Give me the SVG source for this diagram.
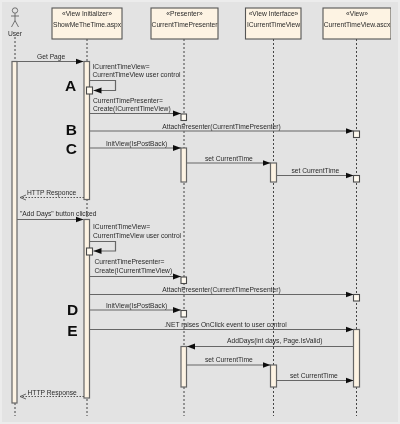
<svg xmlns="http://www.w3.org/2000/svg" width="400" height="424" viewBox="0 0 400 424">
<style>
text{font-family:"Liberation Sans",Arial,sans-serif;font-size:6.7px;fill:#2a2a2a}
.c{text-anchor:middle}
.big{font-size:15.500px;font-weight:bold;fill:#111;text-anchor:middle}
.box{fill:#fdf3e3;stroke:#555;stroke-width:1.100}
.act{fill:#fdf3e3;stroke:#666;stroke-width:1.200}
.small{fill:#fffaf0;stroke:#4a4a4a;stroke-width:1.100}
.life{stroke:#444;stroke-width:1;stroke-dasharray:2 2;fill:none}
.msg{stroke:#666;stroke-width:1.200;fill:none;marker-end:url(#solid)}
.ret{stroke:#555;stroke-width:1;stroke-dasharray:1.500 1.500;fill:none;marker-end:url(#open)}
</style>
<defs>
<filter id="soft" x="0" y="0" width="100%" height="100%"><feGaussianBlur stdDeviation="0.300"/></filter>
<marker id="solid" markerUnits="userSpaceOnUse" markerWidth="9" markerHeight="7" refX="8" refY="3.500" orient="auto"><path d="M0 0.500L8 3.500L0 6.500Z" fill="#111"/></marker>
<marker id="open" markerUnits="userSpaceOnUse" markerWidth="8" markerHeight="7" refX="6" refY="3.500" orient="auto"><path d="M0 1L6 3.500L0 6" fill="none" stroke="#555" stroke-width=".9"/></marker>
</defs>
<rect width="400" height="424" fill="#ececec"/>
<rect x="2" y="2" width="396" height="420" fill="#e3e3e3"/>
<g filter="url(#soft)">
<g id="lifelines">
<path class="life" d="M15 37V61M15 403V416"/>
<path class="life" d="M87 39V416"/>
<path class="life" d="M184 39V416"/>
<path class="life" d="M273.500 39V416"/>
<path class="life" d="M356.500 39V416"/>
</g>
<g id="user">
<circle cx="15" cy="10.500" r="2.700" fill="none" stroke="#555" stroke-width=".8"/>
<path d="M15 13.300V20.500M11 16H19M15 20.500L11.500 27M15 20.500L18.500 27" fill="none" stroke="#555" stroke-width=".8"/>
<text class="c" x="15" y="36">User</text>
<rect class="act" x="12" y="61.500" width="5" height="341.500"/>
</g>
<g id="view-initializer">
<rect class="box" x="52" y="8" width="70" height="31"/>
<text class="c" x="87" y="16">«View Initializer»</text>
<text class="c" x="87" y="26.500">ShowMeTheTime.aspx</text>
<rect class="act" x="84" y="61.500" width="5.500" height="138"/>
<rect class="act" x="84" y="219.500" width="5.500" height="178.500"/>
<rect class="small" x="86.500" y="87" width="6" height="7"/>
<rect class="small" x="86.500" y="248" width="6" height="7"/>
</g>
<g id="presenter">
<rect class="box" x="151" y="8" width="67" height="31"/>
<text class="c" x="184.500" y="16">«Presenter»</text>
<text class="c" x="184.500" y="26.500">CurrentTimePresenter</text>
<rect class="small" x="181" y="114" width="5.500" height="6.500"/>
<rect class="act" x="181" y="148" width="5.500" height="34"/>
<rect class="small" x="181" y="277" width="5.500" height="6.500"/>
<rect class="small" x="181" y="310.500" width="5.500" height="6.500"/>
<rect class="act" x="181" y="346.500" width="5.500" height="40.500"/>
</g>
<g id="view-interface">
<rect class="box" x="245.500" y="8" width="55.500" height="31"/>
<text class="c" x="273.500" y="16">«View Interface»</text>
<text class="c" x="273.500" y="26.500">ICurrentTimeView</text>
<rect class="act" x="270.500" y="163" width="6" height="19"/>
<rect class="act" x="270.500" y="365" width="6" height="22"/>
</g>
<g id="view">
<rect class="box" x="323" y="8" width="68" height="31"/>
<text class="c" x="357" y="16">«View»</text>
<text class="c" x="357" y="26.500">CurrentTimeView.ascx</text>
<rect class="small" x="353.500" y="131" width="6" height="6.500"/>
<rect class="small" x="353.500" y="175.500" width="6" height="6.500"/>
<rect class="small" x="353.500" y="294.500" width="6" height="6.500"/>
<rect class="act" x="353.500" y="329.500" width="6" height="57.500"/>
</g>
<g id="connectors">
<path class="msg" d="M17 61.500H83.500"/>
<path class="msg" d="M89.500 80.500H115.500V90.500H93.500"/>
<path class="msg" d="M89.500 113.500H181"/>
<path class="msg" d="M89.500 131H353.500"/>
<path class="msg" d="M89.500 148H181"/>
<path class="msg" d="M186.500 163H270.500"/>
<path class="msg" d="M276.500 175.500H353.500"/>
<path class="ret" d="M84 197.500H20"/>
<path class="msg" d="M17 219.500H83.500"/>
<path class="msg" d="M89.500 241.500H115.500V251H93.500"/>
<path class="msg" d="M89.500 276.500H181"/>
<path class="msg" d="M89.500 294.500H353.500"/>
<path class="msg" d="M89.500 310H181"/>
<path class="msg" d="M89.500 329.500H353.500"/>
<path class="msg" d="M353.500 346.500H187"/>
<path class="msg" d="M186.500 365H270.500"/>
<path class="msg" d="M276.500 380.500H353.500"/>
<path class="ret" d="M84 396.500H20"/>
</g>
<g id="labels">
<text x="37" y="59">Get Page</text>
<text x="92.500" y="68.500">ICurrentTimeView=</text>
<text x="92.500" y="77">CurrentTimeView user control</text>
<text x="93" y="103">CurrentTimePresenter=</text>
<text x="93" y="111">Create(ICurrentTimeView)</text>
<text class="c" x="221.500" y="128.500">AttachPresenter(CurrentTimePresenter)</text>
<text x="106" y="145.500">InitView(IsPostBack)</text>
<text x="205" y="161">set CurrentTime</text>
<text x="291.500" y="173">set CurrentTime</text>
<text x="27" y="195">HTTP Responce</text>
<text x="20" y="215.500">"Add Days" button clicked</text>
<text x="93" y="229">ICurrentTimeView=</text>
<text x="93" y="237.500">CurrentTimeView user control</text>
<text x="94.500" y="264">CurrentTimePresenter=</text>
<text x="94.500" y="272.500">Create(ICurrentTimeView)</text>
<text class="c" x="221.500" y="292">AttachPresenter(CurrentTimePresenter)</text>
<text x="106" y="307.500">InitView(IsPostBack)</text>
<text class="c" x="225.500" y="327">.NET raises OnClick event to user control</text>
<text x="227" y="342.500">AddDays(int days, Page.IsValid)</text>
<text x="205" y="362">set CurrentTime</text>
<text x="290" y="378">set CurrentTime</text>
<text x="27.500" y="394.500">HTTP Response</text>
<text class="big" x="70.700" y="91">A</text>
<text class="big" x="71.300" y="135">B</text>
<text class="big" x="71.300" y="153.500">C</text>
<text class="big" x="72.700" y="314.700">D</text>
<text class="big" x="72.500" y="336">E</text>
</g>
</g>
</svg>
